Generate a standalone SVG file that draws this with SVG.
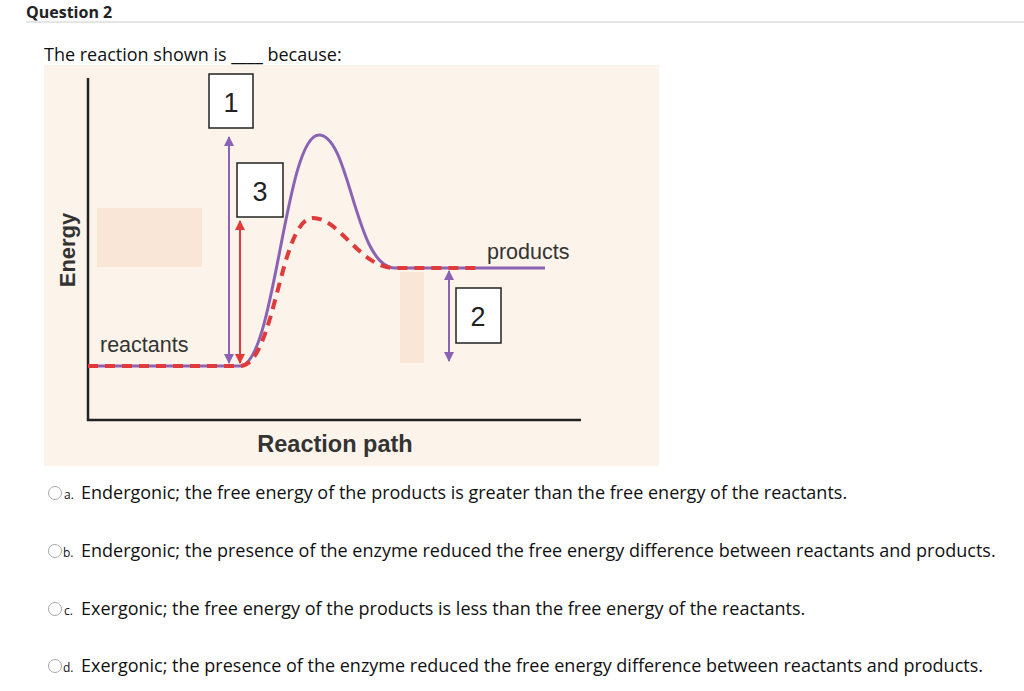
<svg xmlns="http://www.w3.org/2000/svg" width="1024" height="691" viewBox="0 0 1024 691">
<defs>
<marker id="ap" viewBox="0 0 10 10" refX="9" refY="5" markerWidth="6" markerHeight="5" orient="auto-start-reverse"><path d="M0,0L10,5L0,10z" fill="#8a63b5"/></marker>
<marker id="ar" viewBox="0 0 10 10" refX="9" refY="5" markerWidth="6" markerHeight="5" orient="auto-start-reverse"><path d="M0,0L10,5L0,10z" fill="#e03a3a"/></marker>
</defs>
<style>
.q{font-family:"Open Sans",sans-serif;font-size:18px;fill:#111}
.s{font-family:"Open Sans",sans-serif;font-size:12px;fill:#111}
.g{font-family:"Liberation Sans",Arial,sans-serif;fill:#333}
.box{fill:#fff;stroke:#222;stroke-width:1.5}
.n{font-family:"Liberation Sans",Arial,sans-serif;font-size:27px;fill:#222;text-anchor:middle}
.r{fill:none;stroke:#aaa;stroke-width:1}
</style>
<rect width="1024" height="691" fill="#fff"/>
<text x="26" y="18" font-family="Open Sans,sans-serif" font-weight="bold" font-size="16" fill="#222">Question 2</text>
<line x1="26" y1="22" x2="1024" y2="22" stroke="#ccc"/>
<text x="44" y="61" class="q">The reaction shown is ____ because:</text>
<rect x="44" y="65" width="615" height="401" fill="#fcf4ea"/>
<rect x="97" y="208" width="105" height="59" fill="#f9e6d6"/>
<rect x="400" y="272" width="24" height="91" fill="#f9e6d6"/>
<g id="axes" stroke="#222" stroke-width="2.5" fill="none"><path d="M88,78V420H581"/></g>
<g id="connectors">
<path d="M88,366H240C275,366 285,135 319,135C350,135 355,268 395,268H545" fill="none" stroke="#8a63b5" stroke-width="3"/>
<path d="M88,366H240C275,366 280,218 313,218C340,218 360,268 395,268H480" fill="none" stroke="#e03a3a" stroke-width="4" stroke-dasharray="10,7"/>
<line x1="229" y1="137" x2="229" y2="363" stroke="#8a63b5" stroke-width="2" marker-start="url(#ap)" marker-end="url(#ap)"/>
<line x1="240" y1="221" x2="240" y2="363" stroke="#e03a3a" stroke-width="2" marker-start="url(#ar)" marker-end="url(#ar)"/>
<line x1="449" y1="271" x2="449" y2="361" stroke="#8a63b5" stroke-width="2" marker-start="url(#ap)" marker-end="url(#ap)"/>
</g>
<g id="box1"><rect x="209" y="74" width="44" height="54" class="box"/><text x="231" y="112" class="n">1</text></g>
<g id="box3"><rect x="237" y="163" width="46" height="54" class="box"/><text x="260" y="201" class="n">3</text></g>
<g id="box2"><rect x="456" y="288" width="45" height="55" class="box"/><text x="478" y="326" class="n">2</text></g>
<text x="100" y="352" class="g" font-size="21.5">reactants</text>
<text x="487" y="259" class="g" font-size="21.5">products</text>
<text transform="translate(75,250) rotate(-90)" text-anchor="middle" class="g" font-size="22" font-weight="bold" fill="#222">Energy</text>
<text x="335" y="452" text-anchor="middle" class="g" font-size="23.5" font-weight="bold" fill="#222">Reaction path</text>
<g id="opts">
<circle cx="55" cy="493" r="6.5" class="r"/><text x="64" y="499" class="s">a.</text><text x="81" y="499" class="q">Endergonic; the free energy of the products is greater than the free energy of the reactants.</text>
<circle cx="55" cy="551" r="6.5" class="r"/><text x="63" y="557" class="s">b.</text><text x="81" y="557" class="q">Endergonic; the presence of the enzyme reduced the free energy difference between reactants and products.</text>
<circle cx="55" cy="609" r="6.5" class="r"/><text x="64" y="615" class="s">c.</text><text x="81" y="615" class="q">Exergonic; the free energy of the products is less than the free energy of the reactants.</text>
<circle cx="55" cy="666" r="6.5" class="r"/><text x="63" y="672" class="s">d.</text><text x="81" y="672" class="q">Exergonic; the presence of the enzyme reduced the free energy difference between reactants and products.</text>
</g>
</svg>
